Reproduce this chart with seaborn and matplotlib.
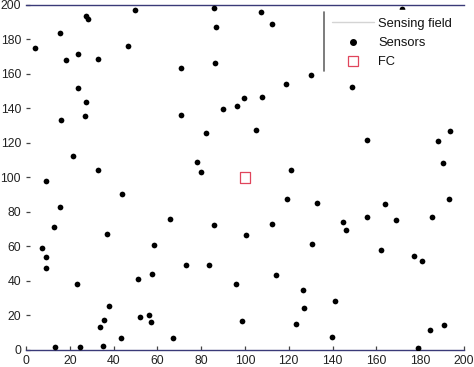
import matplotlib
matplotlib.use("Agg")
import matplotlib.pyplot as plt
from matplotlib.lines import Line2D
import seaborn as sns
import pandas as pd

sensor_x = [4.0, 15.4, 18.1, 23.6, 27.4, 28.3, 32.9, 46.7, 49.9, 23.6,
            27.4, 26.9, 15.8, 21.3, 32.9, 9.0, 70.8, 70.8, 86.0, 86.9,
            86.4, 90.1, 96.3, 82.2, 77.9, 79.8, 107.2, 112.2, 130.0, 118.7,
            99.7, 107.6, 149.0, 104.9, 155.7, 188.3, 193.8, 190.6, 120.9, 44.0,
            15.4, 12.6, 65.6, 85.8, 37.1, 7.3, 9.0, 9.0, 58.6, 51.0,
            57.4, 73.1, 83.6, 23.3, 96.0, 37.9, 35.6, 33.8, 52.2, 56.3,
            56.9, 43.5, 67.0, 13.1, 24.7, 35.3, 119.2, 132.9, 163.8, 193.3,
            112.2, 100.6, 144.7, 146.0, 155.6, 168.9, 185.4, 130.6, 162.0, 177.3,
            180.9, 114.2, 126.5, 126.9, 141.2, 98.8, 123.1, 139.9, 184.5, 190.9,
            179.1, 171.5]
sensor_y = [174.9, 183.6, 167.7, 171.2, 193.2, 191.8, 168.7, 176.0, 197.0, 151.5,
            143.4, 135.7, 133.4, 112.3, 104.0, 97.6, 163.1, 136.3, 198.2, 187.0,
            166.2, 139.3, 141.1, 125.8, 108.9, 102.9, 195.9, 189.0, 159.4, 153.8,
            145.9, 146.7, 152.1, 127.2, 121.6, 121.0, 127.0, 108.3, 104.0, 90.1,
            83.0, 71.2, 76.0, 72.6, 67.4, 59.3, 53.6, 47.5, 61.0, 41.1,
            44.2, 49.0, 49.4, 38.2, 38.3, 25.5, 17.2, 13.1, 18.9, 20.1,
            16.0, 6.8, 6.8, 1.6, 1.9, 2.5, 87.6, 85.3, 84.7, 87.2,
            73.1, 66.6, 74.3, 69.5, 77.2, 75.5, 77.2, 61.6, 57.9, 54.2,
            51.7, 43.6, 34.7, 24.3, 28.4, 16.6, 14.8, 7.4, 11.4, 14.3,
            1.0, 197.5]
fc_x = [100]
fc_y = [100]
ticks = [0, 20, 40, 60, 80, 100, 120, 140, 160, 180, 200]
legend_labels = ["Sensing field", "Sensors", "FC"]

sns.set_style("ticks")
plt.rcParams['font.family'] = ['Liberation Sans', 'DejaVu Sans']

fig = plt.figure(figsize=(4.74, 3.67), dpi=100)
ax = fig.add_axes([26/474, 17/367, 438/474, 345.3/367])

df_s = pd.DataFrame({"x": sensor_x, "y": sensor_y})
df_fc = pd.DataFrame({"x": fc_x, "y": fc_y})

sns.scatterplot(data=df_s, x="x", y="y", ax=ax, color="black", s=17,
                linewidth=0, marker="o", zorder=3, legend=False)
sns.scatterplot(data=df_fc, x="x", y="y", ax=ax, marker="s", s=60,
                facecolor="none", edgecolor="#e0455c", linewidth=0.9,
                zorder=3, legend=False)

ax.set_xlim(0, 200)
ax.set_ylim(0, 200)
ax.set_xticks(ticks)
ax.set_yticks(ticks)
ax.set_xlabel("")
ax.set_ylabel("")
for side in ["left", "right"]:
    ax.spines[side].set_visible(False)
for side in ["top", "bottom"]:
    ax.spines[side].set_visible(True)
    ax.spines[side].set_color("#3a3a78")
    ax.spines[side].set_linewidth(1.0)
ax.tick_params(direction="in", length=3, width=0.9, color="#444444",
               labelsize=8.8, labelcolor="#222222", pad=3.6,
               top=False, right=False, left=True, bottom=True)

handles = [
    Line2D([], [], color="#d4d4d4", lw=1.0),
    Line2D([], [], color="black", marker="o", markersize=4, lw=0),
    Line2D([], [], color="#e0455c", marker="s", markersize=7.5, lw=0,
           markerfacecolor="none", markeredgewidth=0.9),
]
leg = ax.legend(handles, legend_labels, loc="upper left",
                bbox_to_anchor=(0.680, 0.985), borderaxespad=0,
                fontsize=9.3, handlelength=3.3, handletextpad=0.3,
                labelspacing=0.55, borderpad=0.62, frameon=True,
                fancybox=False, framealpha=1, facecolor="white",
                edgecolor="white")
leg.set_zorder(10)
for t in leg.get_texts():
    t.set_color("#111111")

fig.canvas.draw()
bb = leg.get_window_extent().transformed(fig.transFigure.inverted())
fig.add_artist(Line2D([bb.x0, bb.x0], [bb.y0 + 0.015, bb.y1 - 0.005],
                      color="#666666", lw=1.2, transform=fig.transFigure,
                      zorder=11))

fig.savefig("out.png", dpi=100)
